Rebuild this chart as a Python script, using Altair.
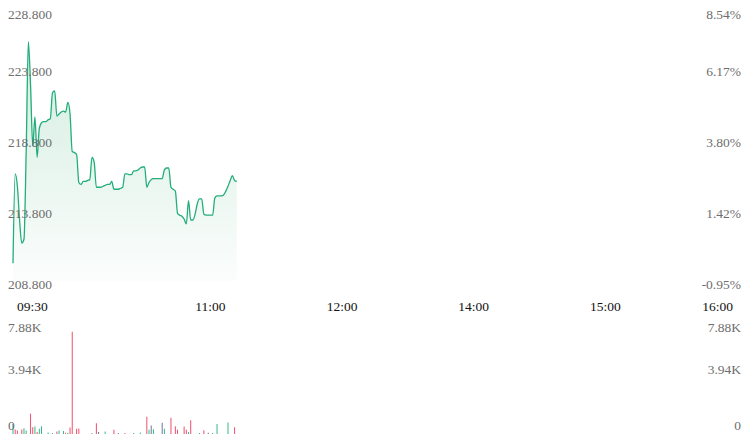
import altair as alt
import pandas as pd

# ---------------- data ----------------
minutes = list(range(103))
prices = [
    210.30, 216.62, 215.74, 213.36, 211.73, 212.00, 218.12, 225.94, 222.88, 218.60,
    220.64, 217.78, 219.82, 220.23, 220.30, 220.30, 220.43, 220.50, 222.34, 222.47,
    220.70, 220.84, 220.98, 221.04, 220.98, 221.66, 220.84, 218.19, 218.12, 217.98,
    216.01, 215.87, 216.08, 216.08, 216.15, 216.21, 217.78, 217.44, 215.67, 215.67,
    215.67, 215.74, 215.81, 215.87, 215.87, 216.08, 215.53, 215.53, 215.53, 215.60,
    215.67, 216.62, 216.62, 216.56, 216.56, 216.83, 216.83, 216.90, 217.03, 217.10,
    217.10, 215.67, 216.01, 216.21, 216.28, 216.28, 216.28, 216.28, 216.28, 216.90,
    217.03, 217.03, 215.67, 215.53, 215.40, 213.83, 213.70, 213.63, 213.43, 213.09,
    214.72, 213.36, 213.36, 213.77, 214.51, 214.85, 214.85, 213.77, 213.70, 213.70,
    213.70, 213.70, 214.92, 215.06, 215.06, 215.06, 215.13, 215.40, 215.74, 216.15,
    216.49, 216.15, 216.08,
]
area_floor = 209.07  # price level where the shaded area stops

vol_minutes = [0, 1, 2, 4, 5, 6, 8, 9, 10, 11, 12, 13, 16, 18, 20, 21, 23, 24, 25, 26,
               27, 29, 30, 36, 38, 39, 42, 46, 48, 51, 55, 58, 61, 62, 63, 64, 68, 69, 72, 74,
               75, 78, 79, 80, 81, 85, 87, 89, 91, 93, 98, 101]
vol_values = [615, 280, 220, 280, 360, 220, 1250, 420, 460, 120, 320, 480, 100, 60, 160, 220, 180, 80, 80, 400,
              6330, 320, 340, 60, 660, 120, 160, 260, 60, 60, 60, 100, 1070, 260, 520, 300, 700, 320, 1010, 480,
              260, 460, 260, 120, 850, 60, 240, 80, 60, 615, 715, 420]
vol_dir = ["up", "down", "down", "down", "up", "up", "down", "down", "up", "down",
           "up", "up", "up", "up", "down", "up", "up", "down", "up", "down",
           "down", "down", "down", "up", "down", "flat", "up", "down", "flat", "down",
           "up", "up", "down", "up", "flat", "up", "flat", "up", "down", "down",
           "down", "down", "down", "up", "down", "up", "down", "flat", "flat", "up",
           "up", "down"]

price_ticks = [228.8, 223.8, 218.8, 213.8, 208.8]
price_labels = ["228.800", "223.800", "218.800", "213.800", "208.800"]
pct_labels = ["8.54%", "6.17%", "3.80%", "1.42%", "-0.95%"]

vol_ticks = [7880, 3940, 0]
vol_labels = ["7.88K", "3.94K", "0"]

time_ticks = [0, 90, 150, 210, 270, 330]
time_labels = ["09:30", "11:00", "12:00", "14:00", "15:00", "16:00"]

# ---------------- layout ----------------
W, H = 734, 426
FONT = "Liberation Serif"
FS = 13.5
GRAY = "#6e6e6e"
LINE = "#22ad7b"

price_df = pd.DataFrame({"m": minutes, "p": prices, "floor": [area_floor] * len(minutes)})
vol_df = pd.DataFrame({"m": vol_minutes, "v": vol_values, "d": vol_dir})
ptick_df = pd.DataFrame({"p": price_ticks, "left": price_labels, "right": pct_labels})
vtick_df = pd.DataFrame({"v": vol_ticks, "lab": vol_labels})
time_df = pd.DataFrame({"m": time_ticks, "lab": time_labels})

x_scale = alt.Scale(domain=[0, 330], nice=False, zero=False)
price_scale = alt.Scale(domain=[208.8, 228.8], range=[276.6, -6.75], zero=False, nice=False)
vol_scale = alt.Scale(domain=[0, 7880], range=[426, 298.8], zero=True, nice=False)
X = alt.X("m:Q", scale=x_scale, axis=None)

gradient = alt.Gradient(
    gradient="linear",
    stops=[alt.GradientStop(color="#d3ede1", offset=0),
           alt.GradientStop(color="#fbfdfc", offset=1)],
    x1=0, x2=0, y1=0, y2=1,
)

area = alt.Chart(price_df).mark_area(interpolate="monotone", fill=gradient, opacity=1).encode(
    x=X,
    y=alt.Y("p:Q", scale=price_scale, axis=None),
    y2=alt.Y2("floor:Q"),
)
line = alt.Chart(price_df).mark_line(interpolate="monotone", color=LINE, strokeWidth=1.3).encode(
    x=X,
    y=alt.Y("p:Q", scale=price_scale, axis=None),
)
bars = alt.Chart(vol_df).mark_bar(width=1).encode(
    x=X,
    y=alt.Y("v:Q", scale=vol_scale, axis=None),
    color=alt.Color("d:N", scale=alt.Scale(domain=["down", "up", "flat"],
                                           range=["#ef4f6b", "#35b98a", "#6b7896"]), legend=None),
)


def ptext(side, flt, dy):
    align = "left" if side == "left" else "right"
    xpos = 0 if side == "left" else W - 1
    return alt.Chart(ptick_df).transform_filter(flt).mark_text(
        align=align, baseline="middle", font=FONT, fontSize=FS, color=GRAY, dy=dy
    ).encode(
        x=alt.value(xpos),
        y=alt.Y("p:Q", scale=price_scale, axis=None),
        text=alt.Text(f"{side}:N"),
    )


def vtext(side, flt, dy):
    align = "left" if side == "left" else "right"
    xpos = 0 if side == "left" else W - 1
    return alt.Chart(vtick_df).transform_filter(flt).mark_text(
        align=align, baseline="middle", font=FONT, fontSize=FS, color=GRAY, dy=dy
    ).encode(
        x=alt.value(xpos),
        y=alt.Y("v:Q", scale=vol_scale, axis=None),
        text=alt.Text("lab:N"),
    )


def ttext(flt, align, dx):
    return alt.Chart(time_df).transform_filter(flt).mark_text(
        align=align, baseline="middle", font=FONT, fontSize=FS, color="#111111", dx=dx
    ).encode(
        x=X,
        y=alt.value(298.8),
        text=alt.Text("lab:N"),
    )


top_p = alt.datum.p > 228
rest_p = alt.datum.p < 228
layers = [
    area, line, bars,
    ptext("left", rest_p, 0), ptext("left", top_p, 13.5),
    ptext("right", rest_p, 0), ptext("right", top_p, 13.5),
    vtext("left", alt.datum.v == 3940, 0), vtext("left", alt.datum.v == 7880, 21.2),
    vtext("left", alt.datum.v == 0, -7.7),
    vtext("right", alt.datum.v == 3940, 0), vtext("right", alt.datum.v == 7880, 21.2),
    vtext("right", alt.datum.v == 0, -7.7),
    ttext(alt.datum.m == 0, "left", 4),
    ttext((alt.datum.m > 0) & (alt.datum.m < 330), "center", 0),
    ttext(alt.datum.m == 330, "right", -4),
]

chart = alt.layer(*layers).resolve_scale(y="independent").properties(
    width=W, height=H, padding=0, autosize="none", background="white"
).configure_view(strokeWidth=0)

chart.save("out.html", embed_options={"renderer": "svg", "actions": False})
